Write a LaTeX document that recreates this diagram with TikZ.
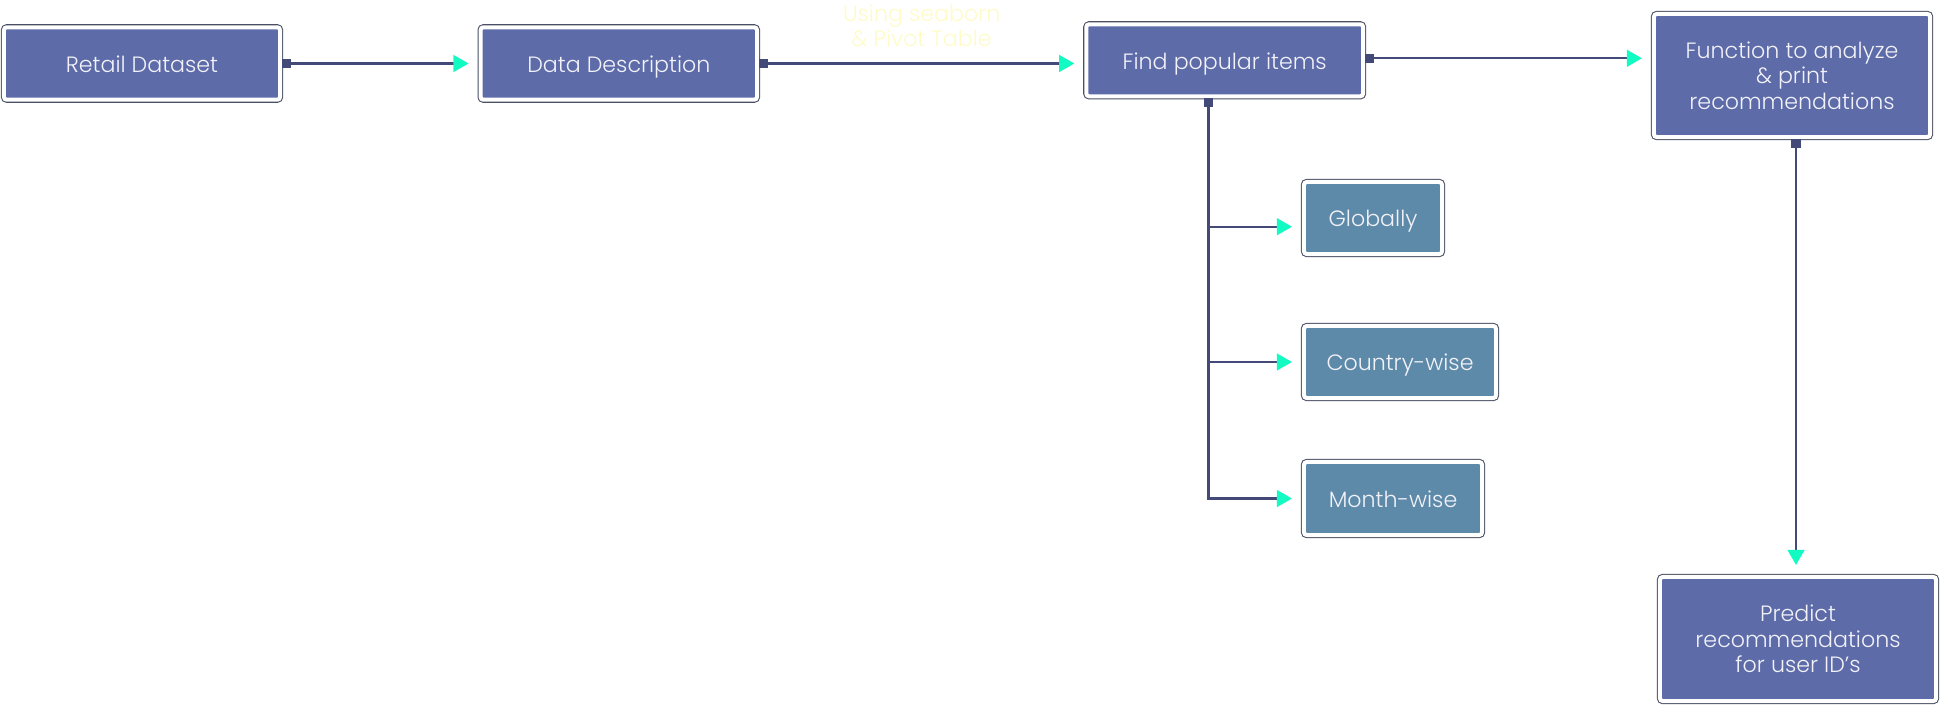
\documentclass[tikz,border=0pt]{standalone}
\usepackage{fontspec}
\setmainfont{Poppins}[UprightFont=* Light]
\usepackage{tikz}
\usetikzlibrary{arrows.meta}
\definecolor{boxblue}{HTML}{5D6BA9}
\definecolor{boxteal}{HTML}{5E8AAA}
\definecolor{rim}{HTML}{4A4F63}
\definecolor{wire}{HTML}{434A78}
\definecolor{aquatip}{HTML}{12FBC2}
\definecolor{notecol}{HTML}{FEFBC8}
\definecolor{ink}{HTML}{F2F2F8}
\tikzstyle{process}=[rectangle, fill=boxblue, draw=white, line width=1.14pt, rounded corners=0.8pt, preaction={draw=rim, line width=1.74pt}, text=ink, align=center, inner sep=0pt, font=\fontsize{6.3}{7.26}\selectfont]
\tikzstyle{oneline}=[text height=5pt, text depth=0pt]
\tikzstyle{subprocess}=[process, oneline, fill=boxteal]
\tikzstyle{flow}=[draw=wire, line width=0.6pt, shorten >=2.85pt, {Square[length=2.6pt,width=2.6pt]}-{Triangle[length=4.3pt,width=4.8pt,color=aquatip]}]
\tikzstyle{branch}=[flow, -{Triangle[length=4.3pt,width=4.8pt,color=aquatip]}]
\tikzstyle{notetext}=[text=notecol, align=center, font=\fontsize{6.3}{7.26}\selectfont]

\begin{document}
\begin{tikzpicture}[x=0.01cm, y=-0.01cm]
\useasboundingbox (0,0) rectangle (1940,706);

\node[process, oneline, minimum width=2.76cm, minimum height=0.724cm] (retail) at (142,63.5) {Retail Dataset};
\node[process, oneline, minimum width=2.763cm, minimum height=0.724cm] (desc) at (618.8,63.5) {Data Description};
\node[process, oneline, minimum width=2.767cm, minimum height=0.72cm] (popular) at (1224.7,60.3) {Find popular items};
\node[process, minimum width=2.76cm, minimum height=1.23cm] (analyze) at (1792,75.5) {Function to analyze\\ \& print\\ recommendations};
\node[process, minimum width=2.76cm, minimum height=1.24cm] (predict) at (1798,639) {Predict\\ recommendations\\ for user ID’s};

\node[subprocess, minimum width=1.38cm, minimum height=0.72cm] (glob) at (1373,218) {Globally};
\node[subprocess, minimum width=1.92cm, minimum height=0.72cm] (country) at (1400,362) {Country-wise};
\node[subprocess, minimum width=1.78cm, minimum height=0.73cm] (month) at (1393,498.5) {Month-wise};

% main line
\draw[flow] (retail) -- (desc);
\draw[flow] (desc.east) -- (desc.east -| popular.west)
  node[notetext, midway, yshift=0.375cm] (pivot) {Using seaborn\\ \& Pivot Table};
\coordinate (pe) at ([yshift=0.02cm]popular.east);
\draw[flow] (pe) -- (pe -| analyze.west);
\coordinate (as) at ([xshift=0.04cm]analyze.south);
\draw[flow] (as) -- (as |- predict.north);

% popular items split
\coordinate (ps) at ([xshift=-0.162cm]popular.south);
\coordinate (gin) at ([yshift=-0.087cm]glob.west);
\draw[flow] (ps) |- (month.west);
\draw[branch] (ps |- gin) -- (gin);
\draw[branch] (ps |- country.west) -- (country.west);

\end{tikzpicture}
\end{document}
